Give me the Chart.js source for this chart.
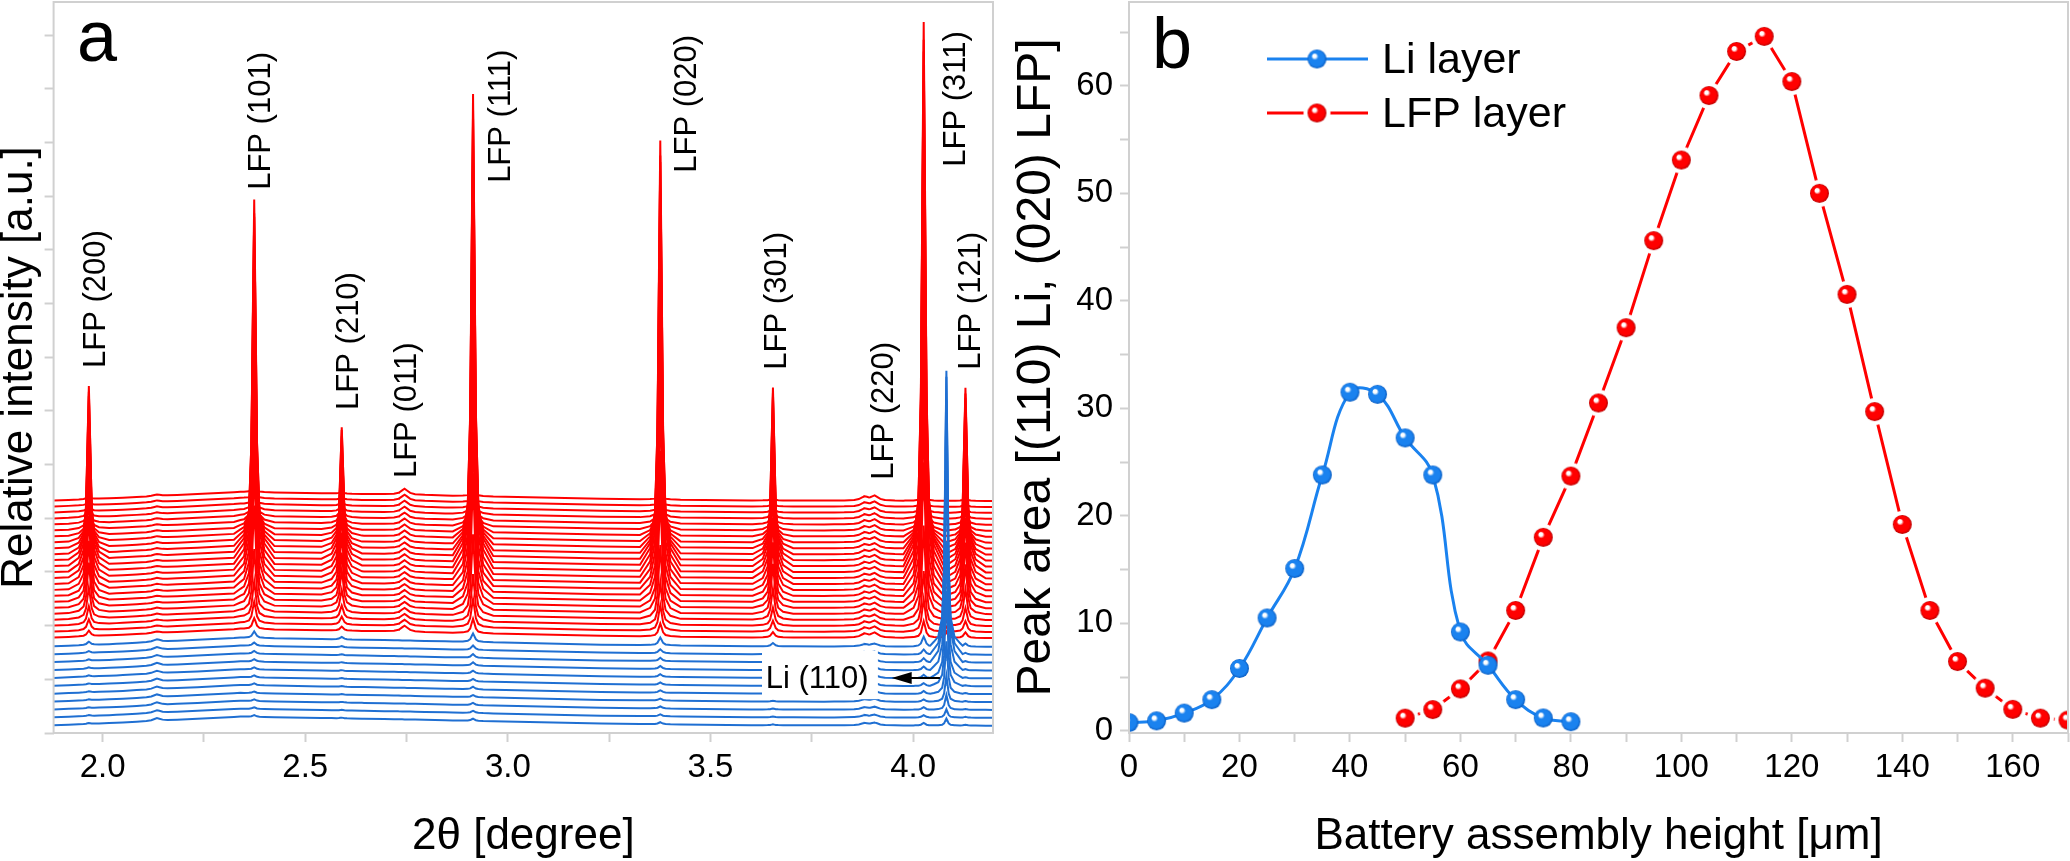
<!DOCTYPE html>
<html>
<head>
<meta charset="utf-8">
<script src="https://cdn.jsdelivr.net/npm/chart.js@4.4.0/dist/chart.umd.min.js"></script>
<style>
  html, body { margin: 0; padding: 0; background: #fff; }
  #wrap { position: relative; width: 2070px; height: 861px; overflow: hidden; }
  .panel { position: absolute; top: 0; }
  #panelA { left: 0; }
  #panelB { left: 1000px; }
</style>
</head>
<body>
<div id="wrap">
  <div class="panel" id="panelA"><canvas id="xrd" width="1010" height="861"></canvas></div>
  <div class="panel" id="panelB"><canvas id="area" width="1070" height="861"></canvas></div>
</div>
<script>
// ---------- panel b: peak areas vs. height ----------
const liHeight = [0, 5, 10, 15, 20, 25, 30, 35, 40, 45, 50, 55, 60, 65, 70, 75, 80];
const liArea = [0.77, 0.93, 1.65, 2.9, 5.8, 10.5, 15.1, 23.8, 31.5, 31.3, 27.25, 23.8, 9.2, 6.1, 2.9, 1.2, 0.85];
const lfpHeight = [50, 55, 60, 65, 70, 75, 80, 85, 90, 95, 100, 105, 110, 115, 120, 125, 130, 135, 140, 145, 150, 155, 160, 165, 170];
const lfpArea = [1.18, 1.98, 3.9, 6.5, 11.2, 18.0, 23.7, 30.5, 37.5, 45.6, 53.1, 59.1, 63.2, 64.6, 60.4, 50.0, 40.6, 29.7, 19.2, 11.2, 6.45, 3.97, 2.0, 1.18, 1.0];

// ---------- panel a: stacked diffraction patterns ----------
const traceHeights = [0, 5, 10, 15, 20, 25, 30, 35, 40, 45, 50, 55, 60, 65, 70, 75, 80, 85, 90, 95, 100, 105, 110, 115, 120, 125, 130, 135, 140, 145, 150, 155, 160, 165, 170];
// sharp LFP reflections (2theta, intensity relative to (311))
const lfpPeakPos = [1.966, 2.374, 2.590, 2.914, 3.376, 3.654, 4.026, 4.129];
const lfpPeakRel = [0.328, 0.658, 0.242, 0.859, 0.780, 0.328, 1.000, 0.328];
// weak broad features: a bump at 2.13, (011) and the (220) doublet
const broadPos = [2.134, 2.745, 3.880, 3.905];
const broadAmpLfp = [0.03, 0.11, 0.07, 0.09];
const broadAmpLi = [0.05, 0.0, 0.04, 0.05];
// Li (110)
const liPeakPos = 4.082;
// residual LFP area in the Li-rich scans (heights 0-45)
const blueLfpArea = [0.3, 0.3, 0.3, 0.3, 0.35, 0.35, 0.4, 0.45, 0.5, 0.6];
// small Li (110) bumps left in the LFP scans, bottom to top
const redLiPeak = [0.12, 0.1, 0.09, 0.08, 0.07, 0.06, 0.05, 0.045, 0.04, 0.035, 0.03, 0.025, 0.02, 0.02, 0.015, 0.01, 0.01, 0.01, 0, 0, 0, 0, 0, 0];
// background of every scan
const bgTheta = [1.85, 2.05, 2.34, 2.73, 3.23, 3.6, 4.25];
const bgLevel = [0, 0.06, 0.17, 0.12, 0.04, 0.01, 0];
// peak profile (offset in degrees, fraction of peak height)
const profDx = [-0.05, -0.025, -0.013, -0.007, -0.003, 0, 0.003, 0.007, 0.013, 0.025, 0.05];
const profFrac = [0, 0.04, 0.12, 0.32, 0.72, 1, 0.72, 0.32, 0.12, 0.04, 0];

const FONT = "'Liberation Sans', Arial, Helvetica, sans-serif";
const FRAME = '#d0d0d0';
const RED = '#ff0000';
const BLUE_A = '#1f6fd2';
const BLUE_B = '#1a82ef';

const X_MIN = 1.879, X_MAX = 4.197;
const LI_TOP = 50;
const LI_K = 0.169, LFP_K = 0.157;
const BLUE_BASE = 0.136, BLUE_STEP = 0.147;
const RED_BASE = 1.77, RED_STEP = 0.111;
const nBlue = traceHeights.filter(h => h <= LI_TOP).length;

function lerp(xs, ys, x) {
    if (x <= xs[0]) return ys[0];
    for (let i = 1; i < xs.length; i++) {
        if (x <= xs[i]) {
            const t = (x - xs[i - 1]) / (xs[i] - xs[i - 1]);
            return ys[i - 1] + t * (ys[i] - ys[i - 1]);
        }
    }
    return ys[ys.length - 1];
}

function buildTrace(i) {
    const h = traceHeights[i];
    const isLi = h <= LI_TOP;
    const offset = isLi ? BLUE_BASE + i * BLUE_STEP : RED_BASE + (i - nBlue) * RED_STEP;
    const k = lfpHeight.indexOf(h);
    const lfpScale = k >= 0 ? lfpArea[k] : blueLfpArea[i];
    const liAmp = isLi ? liArea[liHeight.indexOf(h)] * LI_K : redLiPeak[i - nBlue];
    const broadAmp = isLi ? broadAmpLi : broadAmpLfp;

    const comps = [];
    lfpPeakPos.forEach((p, j) => comps.push({ pos: p, amp: lfpPeakRel[j] * lfpScale * LFP_K, w: 1 }));
    broadPos.forEach((p, j) => comps.push({ pos: p, amp: broadAmp[j], w: 2 }));
    comps.push({ pos: liPeakPos, amp: liAmp, w: 0.8 });

    const xs = new Set([X_MIN, X_MAX, ...bgTheta]);
    comps.forEach(c => profDx.forEach(d => xs.add(+(c.pos + d * c.w).toFixed(4))));
    return [...xs]
        .filter(x => x >= X_MIN && x <= X_MAX)
        .sort((a, b) => a - b)
        .map(x => ({
            x,
            y: offset + lerp(bgTheta, bgLevel, x) +
               comps.reduce((s, c) => s + c.amp * lerp(profDx, profFrac, (x - c.pos) / c.w), 0)
        }));
}

// Ball marker sprite, like the Origin 3D sphere symbol
function makeBall(base, shade, r, ring) {
    const size = Math.ceil(2 * (r + ring) + 2);
    const c = document.createElement('canvas');
    c.width = c.height = size;
    const g = c.getContext('2d');
    const m = size / 2;
    if (ring > 0) {
        g.fillStyle = '#ffffff';
        g.beginPath();
        g.arc(m, m, r + ring, 0, Math.PI * 2);
        g.fill();
    }
    const grad = g.createRadialGradient(m - r * 0.32, m - r * 0.38, r * 0.04, m, m, r);
    grad.addColorStop(0, '#ffffff');
    grad.addColorStop(0.16, '#ffffff');
    grad.addColorStop(0.34, base);
    grad.addColorStop(0.8, base);
    grad.addColorStop(1, shade);
    g.fillStyle = grad;
    g.beginPath();
    g.arc(m, m, r, 0, Math.PI * 2);
    g.fill();
    return c;
}

const blueBall = makeBall(BLUE_B, '#0a5cc0', 9.5, 0);
const redBall = makeBall(RED, '#b80000', 9.5, 4);

// frame round the plot area
const framePlugin = {
    id: 'frame',
    afterDatasetsDraw(chart) {
        const { ctx, chartArea: a } = chart;
        ctx.save();
        ctx.strokeStyle = FRAME;
        ctx.lineWidth = 2;
        ctx.strokeRect(a.left, a.top, a.right - a.left, a.bottom - a.top);
        ctx.restore();
    }
};

// labels of panel a, placed in data units
const peakLabels = [
    { text: 'LFP (200)', x: 1.984, y: 6.80 },
    { text: 'LFP (101)', x: 2.393, y: 10.12 },
    { text: 'LFP (210)', x: 2.610, y: 6.02 },
    { text: 'LFP (011)', x: 2.751, y: 4.75 },
    { text: 'LFP (111)', x: 2.985, y: 10.25 },
    { text: 'LFP (020)', x: 3.442, y: 10.44 },
    { text: 'LFP (301)', x: 3.666, y: 6.77 },
    { text: 'LFP (220)', x: 3.930, y: 4.72 },
    { text: 'LFP (311)', x: 4.106, y: 10.55 },
    { text: 'LFP (121)', x: 4.144, y: 6.77 }
];

const xrdLabels = {
    id: 'xrdLabels',
    afterDatasetsDraw(chart) {
        const { ctx, scales: { x, y } } = chart;
        ctx.save();
        // white box behind the Li (110) note
        const bx0 = x.getPixelForValue(3.627), bx1 = x.getPixelForValue(3.913);
        const by0 = y.getPixelForValue(1.53), by1 = y.getPixelForValue(0.63);
        ctx.fillStyle = '#ffffff';
        ctx.fillRect(bx0, by0, bx1 - bx0, by1 - by0);

        ctx.fillStyle = '#000';
        ctx.font = '31px ' + FONT;
        ctx.textBaseline = 'middle';
        ctx.textAlign = 'left';
        ctx.fillText('Li (110)', x.getPixelForValue(3.636), y.getPixelForValue(0.99));

        // arrow to the Li peak
        const ay = y.getPixelForValue(1.025);
        const ax0 = x.getPixelForValue(4.066), ax1 = x.getPixelForValue(3.947);
        ctx.strokeStyle = '#000';
        ctx.lineWidth = 2;
        ctx.beginPath();
        ctx.moveTo(ax0, ay);
        ctx.lineTo(ax1 + 14, ay);
        ctx.stroke();
        ctx.beginPath();
        ctx.moveTo(ax1, ay);
        ctx.lineTo(ax1 + 20, ay - 6);
        ctx.lineTo(ax1 + 20, ay + 6);
        ctx.closePath();
        ctx.fill();

        peakLabels.forEach(l => {
            ctx.save();
            ctx.translate(x.getPixelForValue(l.x), y.getPixelForValue(l.y));
            ctx.rotate(-Math.PI / 2);
            ctx.fillText(l.text, 0, 0);
            ctx.restore();
        });

        ctx.font = '72px ' + FONT;
        ctx.textBaseline = 'alphabetic';
        ctx.fillText('a', 77, 61);
        ctx.restore();
    }
};

const areaLegend = {
    id: 'areaLegend',
    afterDatasetsDraw(chart) {
        const { ctx } = chart;
        const rows = [
            { text: 'Li layer', color: BLUE_B, ball: blueBall, y: 59 },
            { text: 'LFP layer', color: RED, ball: redBall, y: 113 }
        ];
        ctx.save();
        rows.forEach(r => {
            ctx.strokeStyle = r.color;
            ctx.lineWidth = 3;
            ctx.beginPath();
            ctx.moveTo(267, r.y);
            ctx.lineTo(368, r.y);
            ctx.stroke();
            ctx.drawImage(r.ball, 317 - r.ball.width / 2, r.y - r.ball.height / 2);
            ctx.fillStyle = '#000';
            ctx.font = '43px ' + FONT;
            ctx.textBaseline = 'middle';
            ctx.textAlign = 'left';
            ctx.fillText(r.text, 382, r.y + 2);
        });
        ctx.font = '72px ' + FONT;
        ctx.textBaseline = 'alphabetic';
        ctx.fillText('b', 152, 68);
        ctx.restore();
    }
};

function axisGrid() {
    return {
        display: true,
        drawOnChartArea: false,
        drawTicks: true,
        tickLength: 9,
        tickWidth: 2,
        tickColor: FRAME
    };
}

// keep the plot box fixed: no extra room for half tick labels
function fixX(s) {
    s.height = 128;
    s.paddingLeft = 0;
    s.paddingRight = 0;
}
function fixY(width) {
    return s => {
        s.width = width;
        s.paddingTop = 0;
        s.paddingBottom = 0;
    };
}

// ---------- chart a ----------
const traceSets = traceHeights.map((h, i) => ({
    data: buildTrace(i),
    borderColor: h <= LI_TOP ? BLUE_A : RED,
    borderWidth: 2,
    pointRadius: 0,
    tension: 0,
    fill: false
}));

new Chart(document.getElementById('xrd'), {
    type: 'line',
    data: { datasets: traceSets },
    options: {
        responsive: false,
        animation: false,
        parsing: false,
        events: [],
        layout: { autoPadding: false, padding: { left: 0, top: 2, right: 17, bottom: 0 } },
        plugins: { legend: { display: false }, tooltip: { enabled: false } },
        scales: {
            x: {
                type: 'linear',
                min: X_MIN,
                max: X_MAX,
                border: { display: false },
                grid: axisGrid(),
                ticks: {
                    stepSize: 0.25,
                    includeBounds: false,
                    autoSkip: false,
                    maxRotation: 0,
                    padding: 6,
                    color: '#000',
                    font: { family: FONT, size: 33 },
                    callback: v => Math.abs(v * 2 - Math.round(v * 2)) < 1e-6 ? v.toFixed(1) : ''
                },
                title: {
                    display: true,
                    text: '2θ [degree]',
                    color: '#000',
                    font: { family: FONT, size: 44, lineHeight: 1 },
                    padding: { top: 0, bottom: 2 }
                },
                afterFit: fixX
            },
            y: {
                type: 'linear',
                min: 0,
                max: 13.62,
                border: { display: false },
                grid: axisGrid(),
                ticks: { stepSize: 1, includeBounds: false, callback: () => '' },
                title: {
                    display: true,
                    text: 'Relative intensity [a.u.]',
                    color: '#000',
                    font: { family: FONT, size: 44, lineHeight: 1 },
                    padding: { top: -2, bottom: 0 }
                },
                afterFit: fixY(53.6)
            }
        }
    },
    plugins: [xrdLabels, framePlugin]
});

// ---------- chart b ----------
new Chart(document.getElementById('area'), {
    type: 'line',
    data: {
        datasets: [
            {
                label: 'Li layer',
                data: liHeight.map((h, i) => ({ x: h, y: liArea[i] })),
                borderColor: BLUE_B,
                borderWidth: 3,
                tension: 0.4,
                pointStyle: blueBall,
                pointRadius: 10
            },
            {
                label: 'LFP layer',
                data: lfpHeight.map((h, i) => ({ x: h, y: lfpArea[i] })),
                borderColor: RED,
                borderWidth: 3,
                tension: 0,
                pointStyle: redBall,
                pointRadius: 10
            }
        ]
    },
    options: {
        responsive: false,
        animation: false,
        parsing: false,
        events: [],
        layout: { autoPadding: false, padding: { left: 0, top: 2, right: 2, bottom: 0 } },
        plugins: { legend: { display: false }, tooltip: { enabled: false } },
        scales: {
            x: {
                type: 'linear',
                min: 0,
                max: 170,
                border: { display: false },
                grid: axisGrid(),
                ticks: {
                    stepSize: 10,
                    includeBounds: false,
                    autoSkip: false,
                    maxRotation: 0,
                    padding: 6,
                    color: '#000',
                    font: { family: FONT, size: 33 },
                    callback: v => v % 20 === 0 ? String(v) : ''
                },
                title: {
                    display: true,
                    text: 'Battery assembly height [μm]',
                    color: '#000',
                    font: { family: FONT, size: 44, lineHeight: 1 },
                    padding: { top: 0, bottom: 2 }
                },
                afterFit: fixX
            },
            y: {
                type: 'linear',
                min: -0.2,
                max: 67.8,
                border: { display: false },
                grid: axisGrid(),
                ticks: {
                    stepSize: 5,
                    includeBounds: false,
                    autoSkip: false,
                    padding: 7,
                    color: '#000',
                    font: { family: FONT, size: 33 },
                    callback: v => v % 10 === 0 ? String(v) : ''
                },
                title: {
                    display: true,
                    text: 'Peak area [(110) Li, (020) LFP]',
                    color: '#000',
                    font: { family: FONT, size: 48, lineHeight: 1 },
                    padding: { top: 13, bottom: 0 }
                },
                afterFit: fixY(129)
            }
        }
    },
    plugins: [areaLegend, framePlugin]
});
</script>
</body>
</html>
